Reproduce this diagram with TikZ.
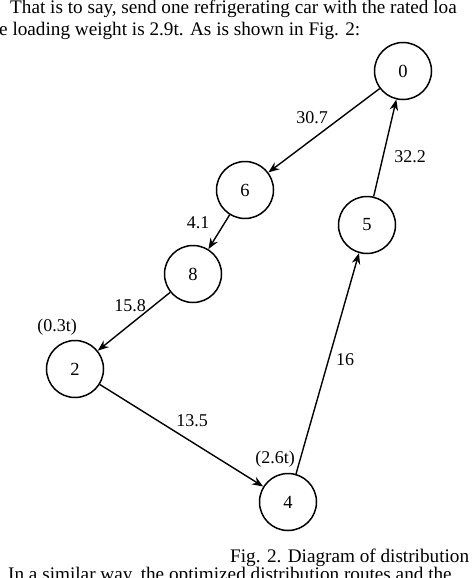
\documentclass[tikz,border=0pt]{standalone}
\usepackage{fontspec}
\setmainfont{Liberation Serif}
\usetikzlibrary{arrows.meta}
\begin{document}
\begin{tikzpicture}[x=1pt,y=-1pt,
  txt/.style={inner sep=0pt,font=\fontsize{19.2}{23}\selectfont},
  city/.style={circle,draw,line width=1.5pt,minimum size=57pt,inner sep=0pt,font=\fontsize{18.5}{22}\selectfont},
  route/.style={line width=1.4pt,-{Stealth[length=11pt,width=8.5pt]}},
  lbl/.style={inner sep=0pt,font=\fontsize{18}{22}\selectfont}]
\useasboundingbox (0,0) rectangle (474,578);
\clip (0,0) rectangle (474,578);
% running text
\node[txt,anchor=base west] (l1) at (10,14) {That is to say, send one refrigerating car with the rated loa};
\node[txt,anchor=base west] (l2) at (-1,36) {e loading weight is 2.9t. As is shown in Fig. 2:};
\node[txt,anchor=base west] (cap) at (230,562) {Fig. 2. Diagram of distribution};
\node[txt,anchor=base west] (l3) at (8,580) {In a similar way, the optimized distribution routes and the};
% nodes
\node[city] (n0) at (403,71) {0};
\node[city] (n6) at (245,190) {6};
\node[city] (n8) at (193,274) {8};
\node[city] (n2) at (75,369) {2};
\node[city] (n4) at (288,502) {4};
\node[city] (n5) at (367,225) {5};
% routes
\draw[route] (n0) -- (n6);
\draw[route] (n6) -- (n8);
\draw[route] (n8) -- (n2);
\draw[route] (n2) -- (n4);
\draw[route] (n4) -- (n5);
\draw[route] (n5) -- (n0);
% labels
\node[lbl] (d06) at (312,118) {30.7};
\node[lbl] (d68) at (198,223) {4.1};
\node[lbl] (d82) at (130,306) {15.8};
\node[lbl] (d24) at (192,421) {13.5};
\node[lbl] (d45) at (345,360) {16};
\node[lbl] (d50) at (410,157) {32.2};
\node[lbl] (w2) at (57,327) {(0.3t)};
\node[lbl] (w4) at (275,459) {(2.6t)};
\end{tikzpicture}
\end{document}
